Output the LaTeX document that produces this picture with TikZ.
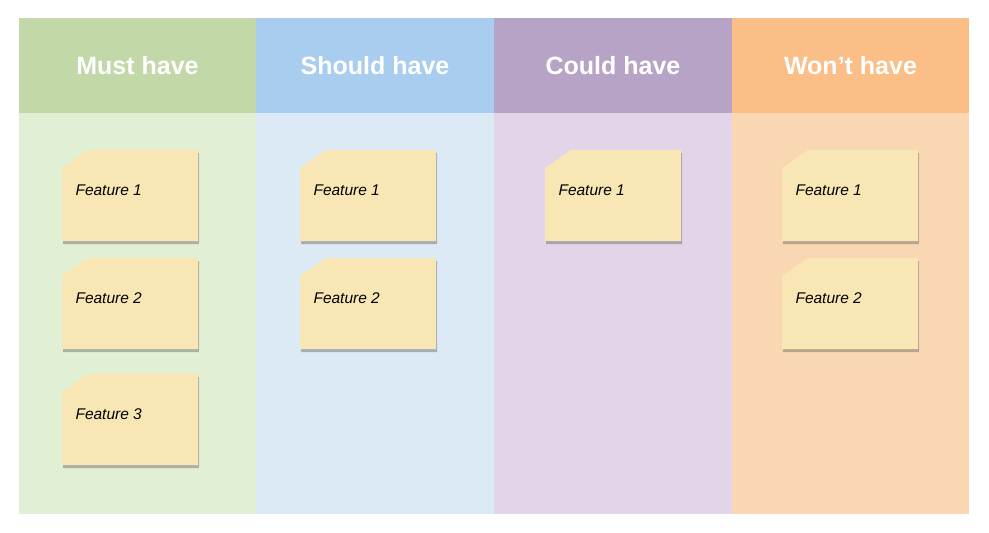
\documentclass[tikz,border=0pt]{standalone}
\usepackage{fontspec}
\setmainfont{Liberation Sans}
\usetikzlibrary{shadows}
\definecolor{hA}{HTML}{C2D8A9}\definecolor{bA}{HTML}{E1F0D4}
\definecolor{hB}{HTML}{A8CDEE}\definecolor{bB}{HTML}{DCEAF5}
\definecolor{hC}{HTML}{B6A3C6}\definecolor{bC}{HTML}{E2D5E9}
\definecolor{hD}{HTML}{FBBE87}\definecolor{bD}{HTML}{F9D7B2}
\definecolor{note}{HTML}{F9E6B5}
\tikzset{hdr/.style={font=\bfseries\fontsize{25}{30}\selectfont,text=white},
 ftxt/.style={font=\itshape\fontsize{15.5}{18}\selectfont,anchor=west},
 notebox/.style={fill=note,drop shadow={shadow xshift=1pt,shadow yshift=-3pt,opacity=0.45,fill=black!60}}}
\newcommand{\stickynote}[4]{% name, x, y, text
 \path[notebox] (#2,#3+18) -- (#2+26,#3) -- (#2+136,#3) -- (#2+136,#3+91) -- (#2,#3+91) -- cycle;
 \node[ftxt] (#1) at (#2+10,#3+40) {#4};}
\begin{document}
\begin{tikzpicture}[x=1pt,y=-1pt]
\useasboundingbox[fill=white] (0,0) rectangle (989,533);
\foreach \c/\xa/\xb/\t in {A/19/256/Must have,B/256/494/Should have,C/494/732/Could have,D/732/969/Won’t have}{
 \fill[b\c] (\xa,113) rectangle (\xb,514);
 \fill[h\c] (\xa,18) rectangle (\xb,113);
 \node[hdr] (h\c) at ({(\xa+\xb)/2},66) {\t};
}
\stickynote{a1}{62}{150}{Feature 1}
\stickynote{a2}{62}{258}{Feature 2}
\stickynote{a3}{62}{374}{Feature 3}
\stickynote{b1}{300}{150}{Feature 1}
\stickynote{b2}{300}{258}{Feature 2}
\stickynote{c1}{545}{150}{Feature 1}
\stickynote{d1}{782}{150}{Feature 1}
\stickynote{d2}{782}{258}{Feature 2}
\end{tikzpicture}
\end{document}
